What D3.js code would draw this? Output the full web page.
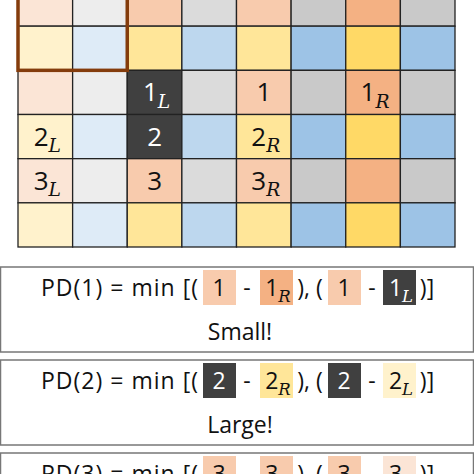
<!DOCTYPE html>
<html><head><meta charset="utf-8">
<script src="https://cdn.jsdelivr.net/npm/d3@7"></script>
<style>body{margin:0;background:#fff}</style></head>
<body><svg id="c" width="474" height="474"></svg>
<script>
const warmRow = ["#fbe5d6","#ededed","#f8cbad","#dbdbdb","#f8cbad","#c9c9c9","#f4b183","#c9c9c9"];
const coolRow = ["#fff2cc","#deebf7","#ffe699","#bdd7ee","#ffe699","#9dc3e6","#ffd966","#9dc3e6"];
const rowTypes = ["w","c","w","c","w","c"];
// special cells: [row, col, main, sub, dark]
const labels = [
  [2,2,"1","L",true],[2,4,"1","",false],[2,6,"1","R",false],
  [3,0,"2","L",false],[3,2,"2","",true],[3,4,"2","R",false],
  [4,0,"3","L",false],[4,2,"3","",false],[4,4,"3","R",false]
];
const panels = [
  {title:"PD(1)", verdict:"Small!", terms:[["1","","#f8cbad",false],["1","R","#f4b183",false],["1","","#f8cbad",false],["1","L","#404040",true]]},
  {title:"PD(2)", verdict:"Large!", terms:[["2","","#404040",true],["2","R","#ffe699",false],["2","","#404040",true],["2","L","#fff2cc",false]]},
  {title:"PD(3)", verdict:"Small!", terms:[["3","","#f8cbad",false],["3","R","#f8cbad",false],["3","","#f8cbad",false],["3","L","#fbe5d6",false]]}
];
const svg = d3.select("#c");
const x = d3.scaleBand().domain(d3.range(8)).range([18,455]);
const y = d3.scaleBand().domain(d3.range(6)).range([-18,247]);
const cells = [];
rowTypes.forEach((t,r)=>d3.range(8).forEach(c=>cells.push({r,c,fill:(t==="w"?warmRow:coolRow)[c]})));
labels.forEach(l=>{ if(l[4]) cells.find(d=>d.r===l[0]&&d.c===l[1]).fill="#404040"; });
svg.selectAll("rect.cell").data(cells).join("rect").attr("class","cell")
  .attr("x",d=>x(d.c)).attr("y",d=>y(d.r)).attr("width",x.bandwidth()).attr("height",y.bandwidth())
  .attr("fill",d=>d.fill).attr("stroke","#222").attr("stroke-width",1.3);
svg.append("rect").attr("x",x(0)).attr("y",y(0)-3).attr("width",x(2)-x(0)).attr("height",y(2)-y(0)+3)
  .attr("fill","none").attr("stroke","#843c0c").attr("stroke-width",3.5);
function lab(g,cx,cy,main,sub,dark,size){
  const t=g.append("text").attr("x",cx).attr("y",cy).attr("text-anchor","middle")
    .attr("fill",dark?"#fff":"#111").style("font-family","'Open Sans'").style("font-size",size+"px");
  t.append("tspan").text(main);
  if(sub) t.append("tspan").attr("dy",size*0.25).style("font-family","'DejaVu Serif'").style("font-style","italic").style("font-size",(size*0.72)+"px").text(sub);
}
labels.forEach(l=>lab(svg,x(l[1])+x.bandwidth()/2+(l[3]?2:0),y(l[0])+y.bandwidth()/2+9,l[2],l[3],l[4],26));
const boxX=[203,260,328,383];
panels.forEach((p,i)=>{
  const oy=267+i*93;
  const g=svg.append("g").attr("transform",`translate(0,${oy})`);
  g.append("rect").attr("x",0.5).attr("y",0).attr("width",473).attr("height",85).attr("fill","#fff").attr("stroke","#777").attr("stroke-width",1.5);
  const ty=29;
  g.append("text").attr("x",41).attr("y",ty).attr("textLength",157).attr("lengthAdjust","spacing").style("font-family","'Open Sans'").style("font-size","23px").attr("fill","#111").text(p.title+" = min [(");
  p.terms.forEach((t,j)=>{
    g.append("rect").attr("x",boxX[j]).attr("y",3).attr("width",33).attr("height",35).attr("fill",t[2]);
    lab(g,boxX[j]+16+(t[1]?2:0),ty,t[0],t[1],t[3],23);
  });
  const st=(xx,s)=>g.append("text").attr("x",xx).attr("y",ty).attr("text-anchor","middle").style("font-family","'Open Sans'").style("font-size","23px").attr("fill","#111").text(s);
  st(247,"-"); st(310,"), ("); st(372,"-"); st(427,")]");
  g.append("text").attr("x",240).attr("y",73).attr("text-anchor","middle").style("font-family","'Open Sans'").style("font-size","23px").attr("fill","#111").text(p.verdict);
});
</script></body></html>
